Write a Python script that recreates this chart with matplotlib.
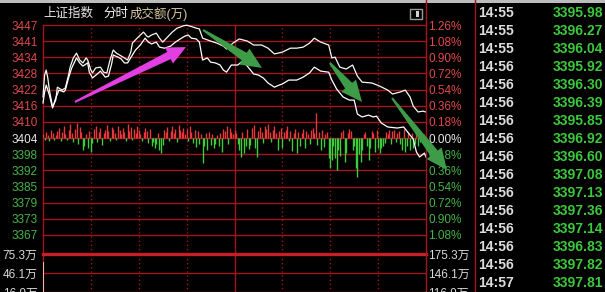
import numpy as np
import matplotlib
matplotlib.use('Agg')
import matplotlib.pyplot as plt
from matplotlib.patches import Polygon, Rectangle
from matplotlib.lines import Line2D
from matplotlib.transforms import IdentityTransform

plt.rcParams['font.family'] = ['Liberation Sans', 'Noto Sans CJK SC']

# --- data ---
base = 3404.0  # previous close (0.00% line)

up_labels = ['3410', '3416', '3422', '3428', '3434', '3441', '3447']
dn_labels = ['3398', '3392', '3385', '3379', '3373', '3367']
pct_up = ['0.18%', '0.36%', '0.54%', '0.72%', '0.90%', '1.08%', '1.26%']
pct_dn = ['0.18%', '0.36%', '0.54%', '0.72%', '0.90%', '1.08%']

# upper (un-weighted) line
a_min = [0, 1, 2, 3, 4, 6, 8, 9, 12, 14, 16, 17, 19, 21, 23, 25, 27, 28, 30, 31,
         33, 36, 38, 40, 42, 44, 46, 48, 51, 53, 55, 56, 59, 61, 63, 65, 66, 68, 71, 73,
         75, 78, 81, 84, 86, 88, 90, 92, 94, 96, 98, 100, 105, 109, 113, 115, 119, 123, 128, 132,
         137, 141, 145, 150, 155, 159, 163, 167, 170, 174, 179, 181, 183, 186, 190, 194, 197, 200, 206, 211,
         216, 219, 224, 227, 230, 232, 235, 238, 240]
a_val = [3419.6, 3427.9, 3429.8, 3426.8, 3422.2, 3415.8, 3418.4, 3423.3, 3422.2, 3423.0,
         3427.9, 3430.9, 3434.4, 3436.2, 3433.6, 3432.5, 3434.4, 3433.6, 3429.8, 3428.7,
         3430.6, 3430.9, 3429.0, 3428.7, 3433.6, 3437.4, 3436.2, 3435.5, 3434.4, 3433.6,
         3436.6, 3440.0, 3441.9, 3443.1, 3444.2, 3442.7, 3442.3, 3443.1, 3443.8, 3441.9,
         3440.4, 3442.3, 3444.2, 3445.7, 3446.1, 3446.6, 3446.8, 3446.5, 3446.1, 3445.7,
         3445.4, 3441.9, 3440.8, 3440.0, 3438.9, 3437.8, 3440.0, 3441.6, 3440.8, 3439.3,
         3439.3, 3438.1, 3435.9, 3436.6, 3438.1, 3438.1, 3438.5, 3440.0, 3441.9, 3440.4,
         3439.3, 3434.4, 3434.7, 3430.9, 3430.2, 3431.7, 3427.5, 3425.2, 3424.9, 3423.7,
         3422.2, 3420.7, 3421.5, 3422.2, 3419.6, 3416.1, 3413.9, 3414.2, 3413.9]

# index line (weighted)
b_min = [0, 1, 2, 4, 6, 8, 10, 13, 14, 16, 18, 21, 23, 25, 28, 29, 31, 34, 36, 39,
         41, 43, 44, 47, 49, 51, 53, 56, 58, 61, 64, 66, 68, 71, 73, 76, 80, 83, 86, 89,
         91, 93, 96, 98, 100, 103, 105, 108, 111, 113, 115, 118, 122, 125, 128, 132, 135, 138, 141, 145,
         148, 150, 154, 159, 163, 167, 170, 174, 179, 181, 184, 188, 192, 195, 197, 200, 204, 207, 209, 212,
         216, 222, 226, 229, 232, 234, 236, 239, 240]
b_val = [3417.3, 3421.5, 3424.1, 3420.3, 3415.4, 3419.2, 3422.2, 3421.5, 3422.2, 3426.8,
         3430.6, 3434.4, 3432.5, 3431.3, 3432.5, 3429.0, 3426.8, 3428.3, 3429.4, 3427.1,
         3427.5, 3432.1, 3435.5, 3434.7, 3434.0, 3432.5, 3432.5, 3435.5, 3437.4, 3439.3,
         3441.9, 3440.4, 3439.7, 3440.4, 3438.5, 3438.1, 3438.9, 3440.4, 3441.6, 3442.7,
         3443.1, 3441.9, 3441.6, 3440.4, 3433.6, 3434.4, 3432.8, 3432.5, 3431.7, 3429.8,
         3429.0, 3431.7, 3431.7, 3433.2, 3431.3, 3428.3, 3427.9, 3426.8, 3424.9, 3423.3,
         3424.1, 3424.5, 3426.0, 3426.0, 3427.1, 3428.7, 3430.9, 3429.4, 3429.0, 3426.0,
         3422.6, 3419.6, 3418.4, 3418.4, 3413.1, 3412.0, 3412.7, 3412.0, 3412.3, 3409.7,
         3408.2, 3407.8, 3408.2, 3405.9, 3403.6, 3398.7, 3396.8, 3398.3, 3396.8]

# buy/sell strength bars, one per minute (+ red, - green)
strength = [4, -2, 6, 3, -3, 8, 5, -2, 3, 7,
            10, -3, 6, 12, 4, -2, 8, 14, 5, -4,
            9, 15, -6, 11, 6, -12, -8, 4, -10, 7,
            -14, -5, 9, 12, -4, 6, 10, -7, 5, 8,
            13, 7, -3, 11, 9, 5, -2, 12, 8, 4,
            10, 6, -3, 14, 7, 11, -2, 9, 5, 12,
            8, 4, -3, 6, 10, 7, -5, 9, -8, -4,
            -10, -6, 5, -12, -15, -7, 8, 6, 11, -3,
            7, 12, 5, 9, -4, 13, 8, 6, 10, 4,
            9, -3, 12, 6, -5, 8, -9, 7, -6, 4,
            -25, -8, 5, -12, 6, -7, 4, -10, -6, 3,
            -8, 5, -14, 9, 7, 12, -6, 10, 6, 4,
            8, 5, -6, -12, -19, 6, -15, -8, 9, -11,
            -7, 10, 13, -10, -19, 7, 11, 6, -5, 12,
            9, 14, 6, -4, 8, 12, 5, -12, 7, 10,
            -10, 6, 8, 12, -3, 7, -13, 5, 9, -15,
            6, -8, 5, 9, -10, 7, 4, -6, 8, 10,
            5, 25, -7, 6, -12, 8, -9, 4, 6, -20,
            -30, -22, -8, -20, -32, -12, -18, 6, 8, -24,
            -15, 5, 9, 7, -12, -8, -30, -39, -16, -24,
            -12, 4, 6, -8, -22, -10, 7, 5, -14, 8,
            -10, -15, -10, -8, -5, 6, 4, 8, -6, 7,
            8, -4, 5, 7, -6, -12, 9, -14, -8, 6,
            -12, 5, -10, -6, 7, -8, -4, 3, -5, 4, -3]
strength_scale = 0.38  # index points per strength unit

vol_min = [0]
vol_val = [163.0]          # 万, only the opening bar reaches the visible part
vol_ticks = [175.3, 146.1, 116.9]
vol_left = ['75.3万', '46.1万', '16.9万']
vol_right = ['175.3万', '146.1万', '116.9万']

tick_times = ['14:55', '14:55', '14:55', '14:56', '14:56', '14:56', '14:56', '14:56',
              '14:56', '14:56', '14:56', '14:56', '14:56', '14:56', '14:56', '14:57']
tick_prices = ['3395.98', '3396.27', '3396.04', '3395.92', '3396.30', '3396.39', '3395.85', '3396.92',
               '3396.60', '3397.08', '3397.13', '3397.36', '3397.14', '3396.83', '3397.82', '3397.81']

# arrows drawn on the chart (minute, index level)
magenta_arrow = [(20.0, 3417.7), (89.6, 3438.5)]
green_arrows = [[(100.3, 3445.0), (137.2, 3430.6)],
                [(179.8, 3432.5), (199.9, 3417.7)],
                [(218.7, 3419.2), (253.1, 3391.9)]]

# --- figure ---
W, H = 605, 292
RED = '#a3141e'
C_UP = '#e04848'
C_DN = '#46b446'
fig = plt.figure(figsize=(W / 100, H / 100), dpi=100, facecolor='black')


def fx(x):
    return x / W


def fy(y):
    return 1 - y / H


step = base * 0.0018
px_per_step = 16.15
top = base + 7 * step
bottom = top - (254 - 25) / px_per_step * step

ax = fig.add_axes([fx(43), fy(254), fx(426) - fx(43), fy(25) - fy(254)])
ax.set_facecolor('black')
ax.set_xlim(0, 240)
ax.set_ylim(bottom, top)
for s in ax.spines.values():
    s.set_visible(False)
ax.set_xticks([])

levels = [base + k * step for k in range(-6, 8)]
for lv in levels:
    ax.axhline(lv, color=RED, lw=1.0, clip_on=False, zorder=1)

left_labels = dn_labels[::-1] + ['3404'] + up_labels
left_colors = [C_DN] * 6 + ['#e8e8e8'] + [C_UP] * 7
ax.set_yticks(levels)
ax.set_yticklabels(left_labels, fontsize=8.5)
for t, c in zip(ax.get_yticklabels(), left_colors):
    t.set_color(c)
ax.tick_params(axis='y', length=0, pad=4)

ax2 = ax.twinx()
ax2.set_ylim(bottom, top)
for s in ax2.spines.values():
    s.set_visible(False)
ax2.set_yticks(levels)
ax2.set_yticklabels(pct_dn[::-1] + ['0.00%'] + pct_up, fontsize=8.5)
for t, c in zip(ax2.get_yticklabels(), left_colors):
    t.set_color(c)
ax2.tick_params(axis='y', length=0, pad=1.5)

# strength bars
minutes = np.arange(len(strength))
sv = np.array(strength) * strength_scale
ax.vlines(minutes[sv > 0], base, base + sv[sv > 0], color='#e8383c', lw=1.0, zorder=2)
ax.vlines(minutes[sv < 0], base + sv[sv < 0], base, color='#3ccc3c', lw=1.0, zorder=2)

ax.plot(a_min, a_val, color='#f8f8f0', lw=0.9, zorder=3, clip_on=False)
ax.plot(b_min, b_val, color='white', lw=0.9, zorder=3, clip_on=False)

# volume panel (mostly below the crop)
axv = fig.add_axes([fx(43), fy(368), fx(426) - fx(43), fy(254) - fy(368)])
axv.set_facecolor('black')
axv.set_xlim(0, 240)
axv.set_ylim(0, 175.3)
for s in axv.spines.values():
    s.set_visible(False)
axv.set_xticks([])
axv.set_yticks(vol_ticks)
axv.set_yticklabels(vol_left, fontsize=8.5, color='#d8d8d8')
axv.tick_params(axis='y', length=0, pad=4)
axv2 = axv.twinx()
axv2.set_ylim(0, 175.3)
for s in axv2.spines.values():
    s.set_visible(False)
axv2.set_yticks(vol_ticks)
axv2.set_yticklabels(vol_right, fontsize=8.5, color='#d8d8d8')
axv2.tick_params(axis='y', length=0, pad=1.5)
axv.axhline(vol_ticks[0], color='#c81e28', lw=2.4, clip_on=False)
for v in vol_ticks[1:]:
    axv.axhline(v, color=RED, lw=1.0)
axv.vlines(vol_min, 0, vol_val, color='#f2dcc8', lw=1.2)

# time grid
for a in (ax, axv):
    for m in (30, 60, 90, 150, 180, 210):
        a.axvline(m, color=RED, lw=1.0, ls=(0, (1, 2)), zorder=1)
    a.axvline(120, color=RED, lw=1.0, zorder=1)
    a.axvline(0, color=RED, lw=1.0, zorder=1, clip_on=False)

# borders of the panel
fig.add_artist(Line2D([fx(426), fx(426)], [0, 1], color=RED, lw=1.0))
fig.add_artist(Line2D([fx(475), fx(475)], [0, 1], color=RED, lw=1.0))
fig.add_artist(Rectangle((0, fy(3)), 1, 3 / H, transform=fig.transFigure,
                         facecolor='#bcbcbc', edgecolor='none'))

# title
fig.text(fx(43), fy(14), '上证指数', color='#e4e4e4', fontsize=9, va='center')
fig.text(fx(103), fy(14), '分时', color='#f4f4f4', fontsize=9, va='center')
fig.text(fx(130), fy(14), '成交额(万)', color='#d8c8a0', fontsize=9, va='center')

# small icon
fig.add_artist(Rectangle((fx(410), fy(19)), 12 / W, 10 / H, transform=fig.transFigure,
                         facecolor='black', edgecolor='#9a9a9a', lw=1.0))
fig.add_artist(Rectangle((fx(416), fy(17)), 3 / W, 6 / H, transform=fig.transFigure,
                         facecolor='#d0d0d0', edgecolor='none'))

# tick list on the right
for i, (t, p) in enumerate(zip(tick_times, tick_prices)):
    y = 13 + 18 * i
    fig.text(fx(478), fy(y), t, color='#dcdcdc', fontsize=10, fontweight='bold', va='center')
    fig.text(fx(553), fy(y), p, color='#3cc83c', fontsize=10, fontweight='bold', va='center')


def wedge_arrow(p0, p1, w0, w1, head_w, head_len, color):
    d0 = ax.transData.transform(p0)
    d1 = ax.transData.transform(p1)
    d = d1 - d0
    u = d / np.hypot(*d)
    n = np.array([-u[1], u[0]])
    hb = d1 - u * head_len
    pts = [d0 + n * w0 / 2, hb + n * w1 / 2, hb + n * head_w / 2, d1,
           hb - n * head_w / 2, hb - n * w1 / 2, d0 - n * w0 / 2]
    fig.add_artist(Polygon(pts, closed=True, transform=IdentityTransform(),
                           facecolor=color, edgecolor='none', zorder=10))


wedge_arrow(magenta_arrow[0], magenta_arrow[1], 2, 8, 18, 19, '#e23ee2')
for p0, p1 in green_arrows:
    wedge_arrow(p0, p1, 2, 9, 19, 21, '#3e9c48')

fig.savefig('out.png', dpi=100, facecolor='black')
